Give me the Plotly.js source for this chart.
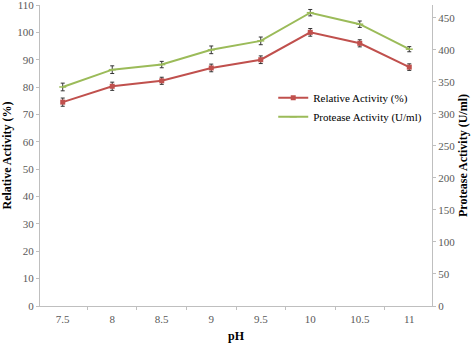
<!DOCTYPE html>
<html><head><meta charset="utf-8">
<script src="https://cdn.plot.ly/plotly-3.0.1.min.js"></script>
<style>html,body{margin:0;padding:0;background:#fff}</style>
</head><body>
<div id="chart" style="width:474px;height:343px"></div>
<script>
var phLabels = ["7.5","8","8.5","9","9.5","10","10.5","11"];
var relativeActivity = [74.5, 80.3, 82.3, 87.0, 90.0, 100.0, 96.0, 87.3];
var relativeErr = [1.5, 1.5, 1.3, 1.4, 1.4, 1.4, 1.3, 1.2];
var proteaseActivity = [342, 369, 377, 400, 414, 458, 440, 401];
var proteaseErr = [6, 6, 5, 6, 6, 5, 5, 4];

var serif = "'Liberation Serif', 'Times New Roman', serif";
var tickFont = {family: serif, size: 11, color: "#595959"};
var titleFont = {family: serif, size: 12, color: "#000", weight: "bold"};

var traces = [
  {x: phLabels, y: relativeActivity, name: "Relative Activity (%)", type: "scatter", mode: "lines+markers",
   line: {color: "#C0504D", width: 2}, marker: {symbol: "square", size: 5, color: "#C0504D"},
   error_y: {type: "data", array: relativeErr, visible: true, color: "#333", thickness: 1, width: 2}},
  {x: phLabels, y: proteaseActivity, name: "Protease Activity (U/ml)", type: "scatter", mode: "lines+markers",
   yaxis: "y2",
   line: {color: "#9BBB59", width: 2}, marker: {symbol: "line-ew", size: 5, color: "#9BBB59", line: {color: "#9BBB59", width: 1.5}},
   error_y: {type: "data", array: proteaseErr, visible: true, color: "#333", thickness: 1, width: 2}}
];

var layout = {
  width: 474, height: 343,
  margin: {l: 40, r: 42, t: 5, b: 37},
  paper_bgcolor: "#fff", plot_bgcolor: "#fff",
  showlegend: true,
  legend: {x: 0.595, y: 0.74, xanchor: "left", yanchor: "top", bgcolor: "rgba(0,0,0,0)",
           font: {family: serif, size: 11, color: "#000"}, tracegroupgap: 0},
  xaxis: {type: "category", tickson: "boundaries", ticks: "outside", ticklen: 3, tickcolor: "#BFBFBF",
          showline: true, linecolor: "#BFBFBF", linewidth: 1, showgrid: false, zeroline: false,
          tickfont: tickFont, ticklabeloverflow: "allow", ticklabelstandoff: 3,
          title: {text: "pH", font: titleFont, standoff: 8}},
  yaxis: {range: [0, 110], dtick: 10, ticks: "outside", ticklen: 3, tickcolor: "#BFBFBF",
          showline: true, linecolor: "#BFBFBF", linewidth: 1, showgrid: false, zeroline: false,
          tickfont: tickFont, ticklabeloverflow: "allow",
          title: {text: "Relative Activity (%)", font: titleFont, standoff: 4}},
  yaxis2: {range: [0, 470], dtick: 50, overlaying: "y", side: "right", ticks: "outside", ticklen: 3, tickcolor: "#BFBFBF",
           showline: true, linecolor: "#BFBFBF", linewidth: 1, showgrid: false, zeroline: false,
           tickfont: tickFont, ticklabeloverflow: "allow",
           title: {text: "Protease Activity (U/ml)", font: titleFont, standoff: 4}}
};
Plotly.newPlot("chart", traces, layout, {displayModeBar: false, staticPlot: true});
</script>
</body></html>
